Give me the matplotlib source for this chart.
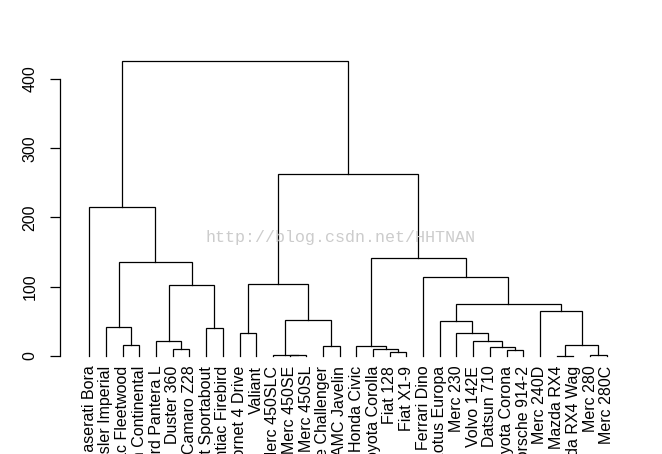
import matplotlib
matplotlib.use('Agg')
import matplotlib.pyplot as plt

plt.rcParams['font.family'] = ['Liberation Sans', 'DejaVu Sans']

# leaf labels in dendrogram order
labels = ['Maserati Bora', 'Chrysler Imperial', 'Cadillac Fleetwood', 'Lincoln Continental',
          'Ford Pantera L', 'Duster 360', 'Camaro Z28', 'Hornet Sportabout', 'Pontiac Firebird',
          'Hornet 4 Drive', 'Valiant', 'Merc 450SLC', 'Merc 450SE', 'Merc 450SL',
          'Dodge Challenger', 'AMC Javelin', 'Honda Civic', 'Toyota Corolla', 'Fiat 128',
          'Fiat X1-9', 'Ferrari Dino', 'Lotus Europa', 'Merc 230', 'Volvo 142E', 'Datsun 710',
          'Toyota Corona', 'Porsche 914-2', 'Merc 240D', 'Mazda RX4', 'Mazda RX4 Wag',
          'Merc 280', 'Merc 280C']

# merges R-style: negative = leaf (1-based in order above), positive = earlier merge
merge_a = [-29, -13, -31, -12, -19, -26, -6, -18, -25, -17, -15, -3, 1, -5, -24, -10,
           -23, -8, -2, -22, 4, -28, 20, 14, 16, -21, 19, 10, -1, 25, 29]
merge_b = [-30, -14, -32, 2, -20, -27, -7, 5, 6, 8, -16, -4, 3, 7, 9, -11,
           15, -9, 12, 17, 11, 13, 22, 18, 21, 23, 24, 26, 27, 28, 30]
heights = [0.6, 1.0, 1.5, 2.1, 5.3, 8.2, 9.6, 9.7, 12.5, 14.4, 14.4, 15.4, 15.4, 21.2,
           21.2, 32.8, 33.2, 40.0, 41.9, 50.1, 52.0, 64.5, 74.6, 102.1, 103.5, 113.6,
           135.7, 141.0, 215.6, 262.4, 425.3]

yticks = [0, 100, 200, 300, 400]

fig = plt.figure(figsize=(6.62, 4.54), dpi=100)
# axes: px 60..630 horizontally, py 50..356 vertically
ax = fig.add_axes([60/662, (454-356)/454, 570/662, 306/454])

xpos = {}
def node(ref):
    # returns (x, y) of a node
    if ref < 0:
        return float(-ref), 0.0
    return xpos[ref]

for i, (a, b, h) in enumerate(zip(merge_a, merge_b, heights), start=1):
    xa, ya = node(a)
    xb, yb = node(b)
    ax.plot([xa, xa, xb, xb], [ya, h, h, yb], color='black', lw=0.9,
            solid_joinstyle='miter', clip_on=False)
    xpos[i] = ((xa + xb) / 2, h)

sp = (606.7 - 89.3) / 31
ax.set_xlim(1 - (89.3 - 60) / sp, 1 + (630 - 89.3) / sp)
ax.set_ylim(0, (356 - 50) / (277 / 400))

ax.set_xticks(range(1, 33))
ax.set_xticklabels(labels, rotation=90, fontsize=11.5, va='top', ha='center')
ax.tick_params(axis='x', length=0, pad=7)

ax.set_yticks(yticks)
ax.set_yticklabels([str(v) for v in yticks], rotation=90, va='center', fontsize=11.5)
ax.tick_params(axis='y', length=7.2, width=0.9, pad=9)

for s in ['top', 'right', 'bottom']:
    ax.spines[s].set_visible(False)
ax.spines['left'].set_bounds(0, 400)
ax.spines['left'].set_linewidth(0.9)
ax.patch.set_visible(False)

fig.text(340/662, 1 - 238/454, 'http://blog.csdn.net/HHTNAN', family='Liberation Mono',
         fontsize=12, color='#cccccc', ha='center', va='center')

fig.savefig('out.png', dpi=100)
